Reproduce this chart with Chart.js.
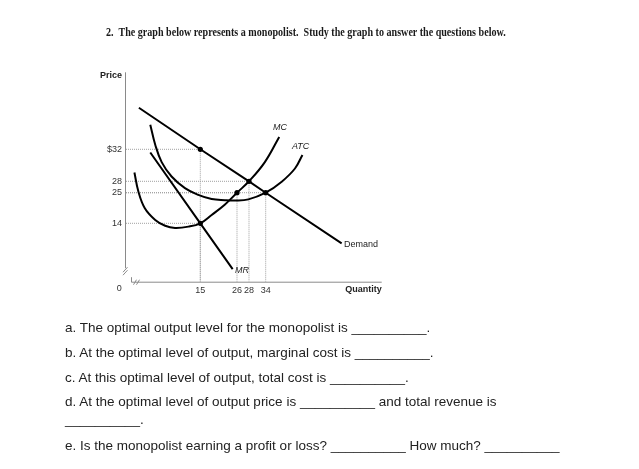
<!DOCTYPE html>
<html><head><meta charset="utf-8">
<script src="https://cdn.jsdelivr.net/npm/chart.js@4"></script>
<style>
html,body{margin:0;padding:0;background:#fff;}
#wrap{position:relative;width:639px;height:469px;overflow:hidden;}
canvas{position:absolute;left:0;top:0;}
.t{position:absolute;left:65px;white-space:pre;font-family:'Liberation Sans',Arial,sans-serif;font-size:13.5px;line-height:13.5px;color:#222;}
#title{position:absolute;left:106px;top:27px;white-space:pre;font-family:'Liberation Serif',serif;font-weight:bold;font-size:11.5px;line-height:11.5px;color:#1a1a1a;transform-origin:0 0;}
</style></head>
<body><div id="wrap">
<canvas id="c" width="639" height="469"></canvas>
<div id="title">2.  The graph below represents a monopolist.  Study the graph to answer the questions below.</div>
<div class="t" style="top:321.3px">a. The optimal output level for the monopolist is __________.</div>
<div class="t" style="top:345.9px">b. At the optimal level of output, marginal cost is __________.</div>
<div class="t" style="top:371.3px">c. At this optimal level of output, total cost is __________.</div>
<div class="t" style="top:395.3px">d. At the optimal level of output price is __________ and total revenue is</div>
<div class="t" style="top:412.6px">__________.</div>
<div class="t" style="top:438.6px">e. Is the monopolist earning a profit or loss? __________ How much? __________</div>
</div>
<script>
// ---- data ----
const demandQ = [2.6, 15, 28, 34, 61.5];
const demandP = [37.4, 32, 28, 25, 9.2];
const mrQ = [4.9, 15, 24.7];
const mrP = [31.6, 14, 3.0];
const mcQ = [1.7, 2.5, 3.8, 5.9, 7.9, 9.9, 12.6, 15, 18.4, 22.4, 26, 28, 33.7, 38.9];
const mcP = [29.1, 25.3, 19.4, 15.2, 13.4, 12.9, 13.2, 14, 17.0, 20.8, 25, 28, 30.4, 33.6];
const atcQ = [4.9, 5.9, 7.2, 9.2, 11.9, 14.6, 18.4, 22.4, 25.4, 27.9, 34, 39.8, 44.6, 47.3];
const atcP = [35.2, 32.6, 30.4, 28.6, 26.2, 24.2, 22.7, 22.3, 22.2, 22.6, 25, 27.9, 29.6, 31.3];
const keyQ = [15, 15, 26, 28, 34];
const keyP = [32, 14, 25, 28, 25];
const seriesNames = ['Demand', 'MR', 'MC', 'ATC'];
const xTicks = [15, 26, 28, 34];
const xTickLabels = ['15', '26', '28', '34'];
const yTicks = [14, 25, 28, 32];
const yTickLabels = ['14', '25', '28', '$32'];
const xAxisTitle = 'Quantity';
const yAxisTitle = 'Price';
const originLabel = '0';

// ---- schematic (piecewise) scale: the drawing is not to scale ----
class PiecewiseScale extends Chart.LinearScale {
  static id = 'piecewise';
  static defaults = {};
  _frac(v) {
    const k = this.options.knots, f = this.options.fractions;
    let i = 0;
    while (i < k.length - 2 && v > k[i + 1]) i++;
    return f[i] + (v - k[i]) * (f[i + 1] - f[i]) / (k[i + 1] - k[i]);
  }
  getPixelForValue(v) { return this.getPixelForDecimal(this._frac(v)); }
  getValueForPixel(p) {
    const k = this.options.knots, f = this.options.fractions;
    const d = this.getDecimalForPixel(p);
    let i = 0;
    while (i < f.length - 2 && d > f[i + 1]) i++;
    return k[i] + (d - f[i]) * (k[i + 1] - k[i]) / (f[i + 1] - f[i]);
  }
}
Chart.register(PiecewiseScale);

const pts = (xs, ys) => xs.map((x, i) => ({ x, y: ys[i] }));
const keyPts = pts(keyQ, keyP);

const guideSets = [];
keyPts.forEach(p => {
  guideSets.push([{ x: 0, y: p.y }, { x: p.x, y: p.y }]);
  guideSets.push([{ x: p.x, y: p.y }, { x: p.x, y: 0 }]);
});

const curveStyle = { borderColor: '#000', borderWidth: 2, pointRadius: 0, fill: false, tension: 0.4, order: 1 };
const datasets = [
  { label: 'key', data: keyPts, showLine: false, pointRadius: 2.6, pointBackgroundColor: '#000', pointBorderWidth: 0, order: 0 },
  Object.assign({ label: seriesNames[0], data: pts(demandQ, demandP) }, curveStyle, { tension: 0 }),
  Object.assign({ label: seriesNames[1], data: pts(mrQ, mrP) }, curveStyle, { tension: 0 }),
  Object.assign({ label: seriesNames[2], data: pts(mcQ, mcP) }, curveStyle),
  Object.assign({ label: seriesNames[3], data: pts(atcQ, atcP) }, curveStyle),
  ...guideSets.map(g => ({ label: 'guide', data: g, borderColor: '#a0a0a0', borderWidth: 1, borderDash: [1, 1], pointRadius: 0, tension: 0, order: 2 }))
];

const labelOffsets = {
  Demand: { dx: 2.3, dy: 0.7, align: 'left', italic: false },
  MR: { dx: 2.3, dy: 1.4, align: 'left', italic: true },
  MC: { dx: 0.7, dy: -9.4, align: 'center', italic: true },
  ATC: { dx: -1.8, dy: -8.3, align: 'center', italic: true }
};

const decor = {
  id: 'decor',
  afterDatasetsDraw(chart) {
    const { ctx, chartArea: a } = chart;
    ctx.save();
    // curve labels
    ctx.fillStyle = '#222';
    ctx.textBaseline = 'middle';
    chart.data.datasets.forEach((ds, i) => {
      const o = labelOffsets[ds.label];
      if (!o) return;
      const meta = chart.getDatasetMeta(i);
      const last = meta.data[meta.data.length - 1];
      ctx.font = (o.italic ? 'italic ' : '') + '9px "Liberation Sans", Arial, sans-serif';
      ctx.textAlign = o.align;
      ctx.fillText(ds.label, last.x + o.dx, last.y + o.dy);
    });
    // axes with break marks
    ctx.strokeStyle = '#8a8a8a';
    ctx.lineWidth = 1;
    const L = a.left - 0.5, B = a.bottom + 0.5;
    ctx.beginPath();
    ctx.moveTo(L, a.top); ctx.lineTo(L, B - 14);
    ctx.moveTo(L - 2.5, B - 10); ctx.lineTo(L + 2, B - 15);
    ctx.moveTo(L - 2.5, B - 7); ctx.lineTo(L + 2, B - 12);
    ctx.moveTo(L + 6, B - 5); ctx.lineTo(L + 6, B);
    ctx.lineTo(a.right, B);
    ctx.moveTo(L + 8, B + 2.5); ctx.lineTo(L + 11, B - 2.5);
    ctx.moveTo(L + 11, B + 2.5); ctx.lineTo(L + 14, B - 2.5);
    ctx.stroke();
    // axis titles + origin label
    ctx.fillStyle = '#222';
    ctx.font = 'bold 9px "Liberation Sans", Arial, sans-serif';
    ctx.textAlign = 'right';
    ctx.fillText(yAxisTitle, a.left - 4, a.top + 3.4);
    ctx.fillText(xAxisTitle, a.right, a.bottom + 7.6);
    ctx.font = '9px "Liberation Sans", Arial, sans-serif';
    ctx.textAlign = 'center';
    ctx.fillStyle = '#333';
    ctx.fillText(originLabel, a.left - 6.7, a.bottom + 7.3);
    ctx.restore();
  }
};

Chart.defaults.font.family = '"Liberation Sans", Arial, sans-serif';
Chart.defaults.font.size = 9;
Chart.defaults.color = '#333';

new Chart(document.getElementById('c'), {
  type: 'line',
  data: { datasets },
  options: {
    responsive: false,
    animation: false,
    layout: { padding: { left: 96, top: 72.3, right: 257.3, bottom: 167.3 } },
    plugins: { legend: { display: false }, tooltip: { enabled: false } },
    scales: {
      x: {
        type: 'piecewise', min: 0, max: 76,
        knots: [0, 15, 26, 28, 34, 76],
        fractions: [0, 0.2906, 0.4341, 0.4810, 0.5463, 1],
        grid: { display: false, drawTicks: false },
        border: { display: false },
        afterBuildTicks: s => { s.ticks = xTicks.map(v => ({ value: v })); },
        afterFit: s => { s.height = 20; },
        ticks: { autoSkip: false, maxRotation: 0, padding: 3, callback: (v, i) => xTickLabels[i] }
      },
      y: {
        type: 'piecewise', min: 0, max: 42,
        knots: [0, 14, 25, 28, 32, 42],
        fractions: [0, 0.2789, 0.4250, 0.4795, 0.6323, 1],
        grid: { display: false, drawTicks: false },
        border: { display: false },
        afterBuildTicks: s => { s.ticks = yTicks.map(v => ({ value: v })); },
        afterFit: s => { s.width = 30; },
        ticks: { autoSkip: false, padding: 4, callback: (v, i) => yTickLabels[i] }
      }
    }
  },
  plugins: [decor]
});

const t = document.getElementById('title');
t.style.transform = 'scaleX(' + (400 / t.offsetWidth) + ')';
</script>
</body></html>
